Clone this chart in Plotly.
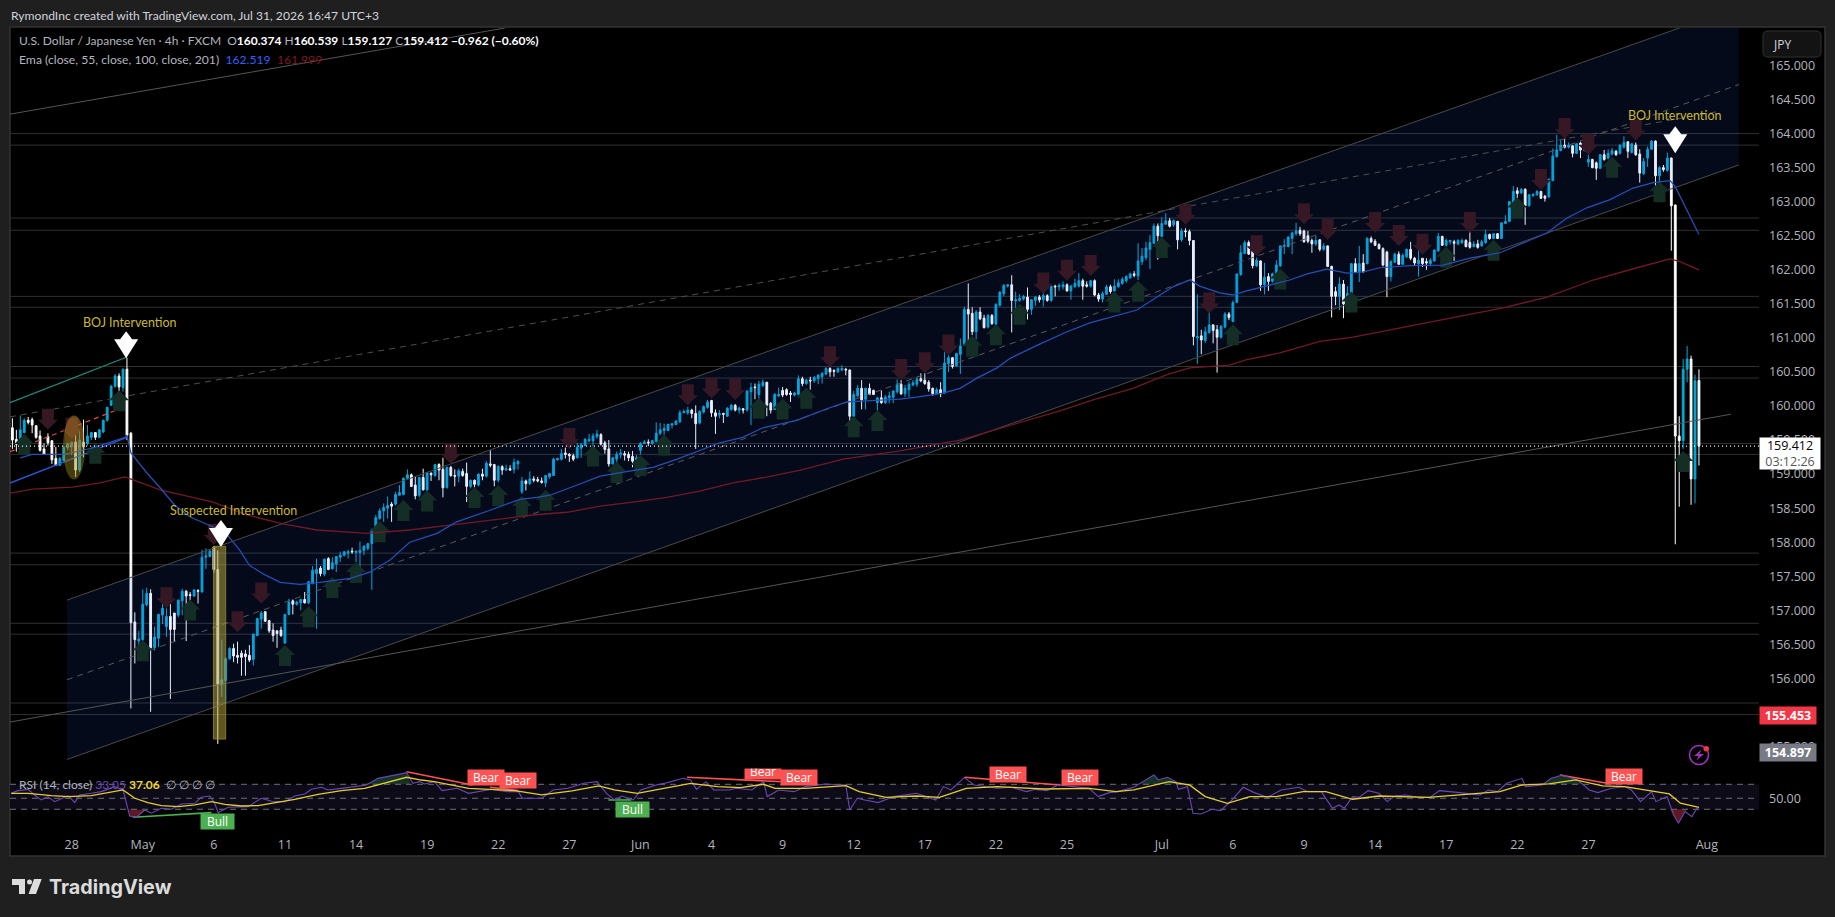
import plotly.graph_objects as go

# ---- candles (4h USD/JPY) ----
opens = [
159.68,159.51,159.44,159.61,159.79,159.80,159.71,159.56,159.37,159.55,
159.49,159.23,159.13,159.20,159.39,159.40,159.47,159.06,159.47,159.45,
159.54,159.61,159.54,159.62,159.79,160.01,160.29,160.44,160.27,160.54,
159.60,156.83,156.55,156.57,157.08,157.25,156.45,156.59,156.93,156.76,
156.91,156.96,156.93,157.14,157.28,157.23,157.21,157.29,157.27,157.78,
157.79,157.93,157.60,155.92,155.97,156.29,156.44,156.34,156.37,156.36,
156.34,156.28,156.63,156.87,156.98,156.85,156.71,156.70,156.71,156.52,
156.94,157.14,157.09,157.11,157.16,157.11,157.39,157.54,157.62,157.53,
157.76,157.61,157.68,157.78,157.81,157.84,157.87,157.85,157.85,157.88,
157.91,157.98,158.15,158.35,158.46,158.50,158.56,158.56,158.69,158.70,
158.94,158.99,158.84,158.69,158.95,158.77,159.01,158.98,159.14,159.07,
158.80,159.10,158.98,158.97,159.04,159.01,158.82,158.91,158.84,159.00,
158.97,159.15,159.14,158.91,159.11,159.06,159.08,159.07,159.15,158.74,
158.90,158.86,158.93,158.92,158.90,158.87,158.96,158.98,159.21,159.22,
159.31,159.29,159.27,159.24,159.38,159.42,159.49,159.49,159.55,159.58,
159.46,159.37,159.15,159.22,159.29,159.30,159.29,159.26,159.19,159.35,
159.45,159.47,159.45,159.48,159.60,159.64,159.64,159.72,159.73,159.77,
159.90,159.90,159.94,159.89,159.75,159.91,159.98,160.08,159.90,159.87,
159.89,159.85,159.95,160.01,159.94,159.96,159.94,160.21,160.28,160.17,
160.30,160.35,160.04,159.95,160.15,160.23,160.24,160.19,160.16,160.17,
160.40,160.33,160.38,160.37,160.40,160.43,160.47,160.55,160.52,160.50,
160.53,160.54,160.53,159.85,160.15,160.26,160.10,160.26,160.23,160.05,
160.12,160.05,160.12,160.13,160.21,160.32,160.18,160.24,160.31,160.32,
160.40,160.38,160.35,160.26,160.18,160.24,160.19,160.62,160.71,160.59,
160.76,160.89,161.42,161.36,161.09,161.38,161.29,161.16,161.33,161.20,
161.48,161.65,161.76,161.78,161.54,161.55,161.57,161.60,161.42,161.55,
161.60,161.56,161.62,161.55,161.76,161.75,161.75,161.78,161.69,161.75,
161.76,161.84,161.78,161.76,161.84,161.63,161.57,161.64,161.75,161.69,
161.75,161.80,161.84,161.88,161.94,161.91,162.12,162.18,162.30,162.39,
162.64,162.49,162.67,162.72,162.66,162.71,162.44,162.57,162.56,162.43,
161.00,161.03,160.96,161.08,161.19,161.12,161.01,161.16,161.35,161.24,
161.52,161.93,162.24,162.40,162.27,162.06,162.13,161.78,161.90,161.83,
161.92,162.06,162.34,162.34,162.46,162.53,162.58,162.57,162.50,162.43,
162.38,162.44,162.30,162.35,162.05,161.68,161.61,161.79,161.50,161.65,
162.09,161.97,162.10,162.09,162.46,162.42,162.37,162.31,162.26,161.90,
162.11,162.23,162.08,162.19,162.30,162.17,162.09,162.17,162.12,162.09,
162.13,162.28,162.49,162.36,162.41,162.41,162.38,162.40,162.43,162.40,
162.34,162.38,162.35,162.40,162.52,162.46,162.53,162.46,162.68,162.71,
162.99,163.16,163.13,163.18,162.94,163.09,163.10,163.15,163.08,163.07,
163.31,163.66,163.75,163.83,163.80,163.82,163.71,163.86,163.75,163.58,
163.62,163.57,163.49,163.69,163.64,163.70,163.74,163.71,163.80,163.88,
163.72,163.83,163.70,163.41,163.64,163.77,163.89,163.38,163.50,163.46,
163.64,162.95,159.56,159.49,160.54,160.69,158.93,160.374]

highs = [
159.82,159.65,159.86,159.82,159.84,159.83,159.72,159.64,159.45,159.60,
159.50,159.40,159.25,159.42,159.46,159.47,159.57,159.63,159.80,159.72,
159.62,159.61,159.66,159.80,159.99,160.31,160.47,160.48,160.55,160.71,
159.62,156.97,156.70,157.31,157.33,157.31,156.76,156.95,157.20,157.03,
157.25,156.96,157.16,157.32,157.30,157.27,157.31,157.31,157.89,157.91,
157.89,157.94,157.88,156.57,156.31,156.46,156.51,156.54,156.41,156.42,
156.49,156.66,156.89,156.99,156.99,156.86,156.81,156.70,156.76,156.95,
157.17,157.16,157.14,157.17,157.27,157.43,157.65,157.76,157.65,157.76,
157.78,157.78,157.79,157.86,157.87,157.89,157.92,157.87,158.01,157.96,
157.99,158.20,158.40,158.50,158.57,158.67,158.59,158.74,158.84,158.95,
159.07,159.01,158.96,158.96,159.08,159.03,159.03,159.15,159.16,159.24,
159.11,159.12,159.07,159.08,159.08,159.17,158.92,158.92,159.01,159.08,
159.19,159.35,159.15,159.13,159.13,159.14,159.13,159.23,159.20,158.96,
158.92,159.04,158.97,158.96,158.95,158.98,159.02,159.24,159.24,159.37,
159.39,159.31,159.30,159.46,159.46,159.53,159.59,159.60,159.65,159.60,
159.49,159.50,159.25,159.33,159.37,159.34,159.33,159.34,159.28,159.47,
159.50,159.51,159.50,159.76,159.75,159.74,159.74,159.75,159.79,159.94,
159.95,159.99,159.96,160.01,159.94,160.01,160.09,160.09,159.95,159.94,
159.90,159.98,160.03,160.03,159.99,159.97,160.23,160.34,160.33,160.37,
160.39,160.35,160.06,160.19,160.27,160.28,160.26,160.22,160.21,160.45,
160.43,160.40,160.43,160.44,160.47,160.50,160.57,160.57,160.54,160.57,
160.60,160.56,160.53,160.22,160.31,160.38,160.27,160.33,160.24,160.13,
160.23,160.16,160.21,160.23,160.39,160.38,160.31,160.36,160.38,160.43,
160.48,160.48,160.38,160.27,160.27,160.35,160.79,160.80,160.72,160.78,
160.99,161.46,161.80,161.45,161.41,161.45,161.34,161.35,161.35,161.51,
161.69,161.79,161.79,161.92,161.68,161.64,161.63,161.74,161.57,161.61,
161.63,161.70,161.64,161.77,161.78,161.80,161.83,161.80,161.78,161.87,
161.95,161.87,161.83,161.85,161.86,161.66,161.68,161.78,161.78,161.86,
161.86,161.89,161.92,161.96,161.98,162.39,162.32,162.41,162.51,162.68,
162.68,162.77,162.83,162.76,162.74,162.72,162.61,162.61,162.59,162.43,
161.64,161.12,161.16,161.53,161.20,161.19,161.19,161.38,161.38,161.55,
161.94,162.36,162.43,162.43,162.28,162.18,162.14,162.10,161.95,161.96,
162.14,162.36,162.45,162.49,162.56,162.69,162.63,162.59,162.57,162.46,
162.50,162.45,162.39,162.36,162.06,161.75,161.89,161.85,161.76,162.10,
162.17,162.35,162.23,162.48,162.49,162.45,162.39,162.33,162.28,162.14,
162.25,162.27,162.24,162.31,162.41,162.19,162.34,162.17,162.17,162.17,
162.30,162.54,162.50,162.46,162.44,162.44,162.45,162.46,162.45,162.58,
162.42,162.44,162.44,162.59,162.53,162.54,162.54,162.70,162.80,163.01,
163.23,163.21,163.20,163.20,163.11,163.12,163.17,163.16,163.10,163.34,
163.78,163.98,163.91,163.93,163.87,163.83,163.86,163.88,163.84,163.69,
163.63,163.59,163.70,163.76,163.77,163.79,163.76,163.84,163.96,163.88,
163.86,163.87,163.77,163.64,163.81,163.90,163.90,163.52,163.54,163.72,
163.65,162.96,159.85,160.69,160.88,160.74,160.46,160.539]

lows = [
159.37,159.33,159.40,159.60,159.73,159.60,159.52,159.33,159.29,159.42,
159.15,159.13,159.12,159.19,159.35,159.28,158.96,159.03,159.25,159.42,
159.50,159.50,159.53,159.60,159.77,160.01,160.27,160.09,160.21,159.50,
155.56,156.22,156.32,156.46,157.06,155.51,156.41,156.46,156.80,156.61,
155.70,156.54,156.90,156.93,156.55,157.10,157.20,157.10,157.26,157.61,
157.78,157.55,155.04,155.73,155.63,156.27,156.24,156.22,156.04,156.04,
156.24,156.19,156.62,156.73,156.83,156.67,156.54,156.45,156.61,156.51,
156.93,156.94,157.07,157.00,157.10,157.09,157.39,156.73,157.50,157.50,
157.59,157.60,157.56,157.71,157.79,157.76,157.83,157.71,157.52,157.81,
157.88,157.30,158.14,158.33,158.30,158.35,158.30,158.54,158.69,158.69,
158.92,158.81,158.63,158.66,158.76,158.74,158.90,158.96,158.91,158.66,
158.79,158.96,158.82,158.88,158.96,158.59,158.79,158.80,158.82,158.91,
158.95,159.10,158.82,158.88,158.99,159.05,159.05,159.01,159.07,158.71,
158.76,158.84,158.88,158.88,158.86,158.81,158.93,158.97,159.20,159.20,
159.23,159.18,159.19,159.23,159.24,159.41,159.47,159.40,159.52,159.42,
159.30,159.11,159.14,159.15,159.23,159.20,159.19,159.10,159.18,159.29,
159.44,159.41,159.43,159.46,159.57,159.57,159.63,159.67,159.72,159.75,
159.90,159.87,159.82,159.37,159.73,159.89,159.96,159.84,159.59,159.82,
159.75,159.84,159.93,159.92,159.89,159.89,159.92,159.72,160.10,160.10,
160.28,159.85,159.89,159.94,160.13,160.13,160.15,160.06,160.14,160.16,
160.29,160.31,160.24,160.34,160.32,160.33,160.45,160.43,160.43,160.49,
160.51,160.45,159.55,159.84,160.13,159.95,159.95,160.16,160.16,159.74,
160.03,160.03,160.04,160.04,160.18,160.16,160.13,160.13,160.29,160.28,
160.35,160.31,160.21,160.15,160.17,160.13,160.18,160.50,160.55,160.57,
160.47,160.88,160.92,161.04,160.98,161.26,161.14,161.14,161.19,161.19,
161.46,161.61,161.74,161.08,161.40,161.53,161.55,161.27,161.34,161.47,
161.52,161.46,161.53,161.53,161.61,161.69,161.71,161.68,161.56,161.74,
161.74,161.56,161.74,161.74,161.61,161.53,161.52,161.63,161.65,161.68,
161.74,161.78,161.81,161.87,161.89,161.85,162.07,162.14,162.01,162.38,
162.15,162.48,162.66,162.62,162.63,162.30,162.41,162.48,162.36,160.89,
160.62,160.76,160.93,161.06,160.92,160.49,160.99,161.14,161.26,161.23,
161.51,161.91,162.23,162.22,162.02,162.04,161.69,161.64,161.69,161.81,
161.89,162.04,162.23,162.33,162.23,162.50,162.50,162.40,162.39,162.25,
162.35,162.27,162.28,162.04,161.30,161.48,161.41,161.29,161.48,161.63,
161.95,161.82,161.96,162.08,162.39,162.35,162.30,162.05,161.60,161.83,
162.10,162.07,162.07,162.17,162.14,162.07,161.90,162.04,162.00,162.05,
162.12,162.26,162.35,162.34,162.37,162.13,162.36,162.38,162.33,162.31,
162.33,162.31,162.34,162.38,162.44,162.45,162.45,162.45,162.67,162.70,
162.97,163.02,163.11,162.66,162.93,163.07,163.09,163.04,163.00,163.06,
163.30,163.65,163.74,163.78,163.78,163.65,163.70,163.64,163.74,163.51,
163.49,163.32,163.48,163.60,163.62,163.68,163.67,163.69,163.78,163.64,
163.71,163.67,163.28,163.39,163.51,163.76,163.23,163.22,163.44,163.44,
162.28,157.97,158.52,159.37,160.35,158.55,158.57,159.127]

closes = [
159.50,159.44,159.65,159.79,159.76,159.72,159.54,159.35,159.29,159.46,
159.21,159.13,159.23,159.39,159.45,159.47,159.06,159.50,159.40,159.56,
159.61,159.54,159.65,159.79,159.98,160.29,160.44,160.28,160.54,159.57,
156.82,156.57,156.58,157.09,157.25,156.45,156.61,156.94,157.03,156.91,
156.72,156.72,157.15,157.28,157.21,157.22,157.30,157.28,157.78,157.80,
157.87,157.60,155.92,155.98,156.29,156.44,156.33,156.31,156.31,156.32,
156.27,156.65,156.88,156.96,156.84,156.70,156.63,156.66,156.63,156.94,
157.12,157.09,157.12,157.16,157.11,157.42,157.59,157.60,157.54,157.75,
157.60,157.70,157.79,157.81,157.86,157.86,157.86,157.87,157.88,157.94,
157.98,158.18,158.36,158.46,158.51,158.54,158.53,158.70,158.73,158.94,
158.99,158.82,158.68,158.95,158.77,159.02,158.99,159.14,159.06,158.80,
159.10,158.98,158.97,159.05,158.98,158.82,158.91,158.85,159.00,158.97,
159.16,159.13,158.91,159.11,159.06,159.08,159.06,159.17,159.19,158.90,
158.86,158.93,158.91,158.90,158.88,158.98,159.01,159.22,159.23,159.30,
159.29,159.27,159.22,159.39,159.43,159.51,159.51,159.56,159.59,159.44,
159.36,159.15,159.24,159.29,159.31,159.28,159.24,159.19,159.24,159.45,
159.47,159.46,159.49,159.60,159.65,159.67,159.73,159.74,159.78,159.90,
159.92,159.94,159.89,159.74,159.92,159.99,160.06,159.90,159.85,159.89,
159.88,159.97,160.01,159.94,159.97,159.94,160.22,160.27,160.27,160.32,
160.35,160.01,159.94,160.17,160.17,160.16,160.17,160.17,160.19,160.40,
160.33,160.38,160.37,160.42,160.45,160.48,160.55,160.50,160.51,160.55,
160.55,160.53,159.85,160.17,160.26,160.09,160.26,160.17,160.17,160.12,
160.05,160.13,160.15,160.22,160.32,160.18,160.26,160.32,160.34,160.39,
160.37,160.33,160.25,160.18,160.24,160.18,160.63,160.71,160.58,160.77,
160.88,161.42,161.35,161.09,161.38,161.28,161.15,161.33,161.21,161.49,
161.67,161.77,161.78,161.55,161.56,161.58,161.61,161.42,161.56,161.60,
161.56,161.62,161.55,161.76,161.75,161.77,161.78,161.69,161.76,161.80,
161.84,161.76,161.76,161.84,161.63,161.57,161.65,161.75,161.68,161.76,
161.81,161.86,161.90,161.94,161.92,162.13,162.20,162.32,162.40,162.64,
162.50,162.68,162.72,162.64,162.72,162.44,162.57,162.56,162.43,161.02,
161.02,160.97,161.09,161.19,161.11,161.01,161.17,161.35,161.30,161.52,
161.94,162.25,162.40,162.23,162.06,162.14,161.78,161.89,161.83,161.94,
162.07,162.35,162.36,162.48,162.54,162.57,162.53,162.41,162.42,162.38,
162.43,162.30,162.35,162.05,161.61,161.61,161.79,161.50,161.65,162.09,
161.97,162.09,161.97,162.46,162.41,162.36,162.31,162.07,161.90,162.12,
162.23,162.08,162.21,162.30,162.17,162.10,162.14,162.09,162.10,162.14,
162.29,162.49,162.36,162.43,162.43,162.39,162.43,162.43,162.34,162.33,
162.38,162.33,162.41,162.52,162.46,162.53,162.46,162.69,162.71,163.00,
163.15,163.12,163.18,162.94,163.10,163.11,163.15,163.05,163.05,163.33,
163.67,163.76,163.83,163.80,163.83,163.71,163.85,163.76,163.82,163.62,
163.50,163.49,163.69,163.62,163.71,163.75,163.69,163.83,163.87,163.74,
163.85,163.69,163.42,163.59,163.77,163.89,163.38,163.50,163.47,163.64,
162.94,159.56,159.49,160.54,160.69,158.93,160.37,159.412]

bars = list(range(len(closes)))
assert len(opens) == len(highs) == len(lows) == len(closes) == 428

# ---- moving averages (bar, price) ----
ema_a_bar = [2,5,13,20,28.5,29,30,34,37.4,41,45,48.8,53.8,57.6,60,64,67.8,72.8,77.9,85.5,90.5,95.6,100.6,107.5,112.5,120.9,128.5,132.8,136.1,143,148.8,157,162.2,168.3,174,179.1,184.9,190,198.6,206.2,211.3,224.7,229,235.6,239.9,244.2,249.3,252.6,259.4,267,272.8,278.6,284.7,288.7,293.8,298.1,300.6,305.7,309,312.5,316.6,323.4,327.8,332.8,337.9,342,346.2,353.8,362.2,369,376.6,381.6,388.5,393.6,398.6,404.5,410.3,415.4,419.7,421,424,427]
ema_a_val = [159.24,159.29,159.29,159.38,159.54,159.57,159.31,159.02,158.80,158.55,158.37,158.28,158.15,157.88,157.66,157.52,157.41,157.38,157.41,157.47,157.56,157.74,158.00,158.13,158.30,158.47,158.63,158.66,158.69,158.84,158.97,159.05,159.10,159.22,159.35,159.46,159.54,159.68,159.79,159.96,160.06,160.10,160.13,160.19,160.26,160.41,160.56,160.70,160.89,161.09,161.22,161.31,161.41,161.56,161.75,161.85,161.76,161.66,161.63,161.69,161.75,161.85,161.94,162.01,161.95,161.97,162.03,162.06,162.07,162.17,162.25,162.37,162.54,162.76,162.91,163.03,163.20,163.28,163.31,163.22,162.88,162.519]
ema_b_bar = [-0.6,5.2,15.3,22.2,28.5,37.4,50.8,59.4,68.5,77.1,89.8,100.6,110.8,123.4,131.8,140.4,148.8,157.1,165.7,174,182.5,191.2,199.5,210.3,224.7,239.9,255.1,265.2,273.6,283.7,292.3,298.1,308.2,312.5,320.9,331,339.4,358.1,377.4,388.5,400.2,411.3,419.7,422.2,427]
ema_b_val = [158.72,158.78,158.81,158.87,158.96,158.77,158.59,158.40,158.27,158.18,158.13,158.18,158.25,158.34,158.40,158.44,158.53,158.59,158.66,158.75,158.87,158.96,159.06,159.22,159.34,159.50,159.76,159.93,160.09,160.26,160.46,160.56,160.60,160.68,160.78,160.95,161.01,161.22,161.44,161.60,161.85,162.03,162.16,162.12,161.999]

# ---- RSI (bar, value) ----
rsi_bar = [-0.3,1.4,4,5.6,7.3,9,10.7,12.8,14.1,15.8,17,20,22.5,25.9,28,29.7,31.4,33.5,35.2,37.7,40.2,42.8,46.2,47.8,50,51.2,52.1,54.6,59.7,63,65.6,69,71.5,74,75.7,78.2,79.9,83.3,89.6,92.6,99.8,101.4,103.1,104.4,106.8,108.8,112.6,115.5,118.4,121.4,125.2,128.1,129.1,134,136.9,140.7,144.6,148,150.4,152.4,154.3,157.2,159.1,163,165.9,169.8,171.7,173.2,175.6,177.6,181.4,183.4,187.2,190.2,191.1,194,197.9,200.8,205.7,211,212,213.9,215.8,219.2,223.1,228.9,233.8,235.7,237.6,241,243.5,249.3,252.8,256.8,259,261.9,264.7,272.6,274.9,277.7,279.9,283.9,286.2,289,290.1,292.4,294.6,295.2,297.5,298.9,300.9,303.7,305.9,308.8,311.6,314.4,317.8,321.2,325.7,328,331.4,334.2,335.9,337.2,339.3,341,343.2,346,348.1,350,352.8,355.7,359,361.3,366.4,371.5,373.7,376,378.3,382.2,383.1,387.3,389.6,392.4,396.3,399.2,401.4,404.8,408.2,409.9,412.2,415,416.1,418.9,420.6,421.8,423.5,425.2,426.5,427]
rsi_val = [57.1,60.9,62.8,54.7,47.6,52.4,45.2,50,53.8,43.8,54.7,57.1,59.5,66.6,61.9,24.7,22.8,33.3,28.6,35.7,34.3,41.9,42.8,51.4,53.3,42.8,29.5,37.1,38.1,50,45.7,45.2,53.3,56.2,62.8,65.7,61.9,64.2,69,78.5,86.6,71.4,73.8,70.4,73.8,60.9,64.3,57.1,59.5,62.8,59.5,59.5,50,50,61.9,64.3,71.4,73.8,57.1,47.6,53.3,47.6,61.9,69,72.4,78.5,76.2,62.8,73.8,61.9,61.9,64.3,61.9,73.8,52.4,61.9,59.5,66.7,70.5,69,33.3,50,47.6,43.8,52.4,57.1,47.6,66.7,61.9,79.5,69,64.3,65.7,59.5,62.8,60.9,69,64.3,52.4,58.1,59.5,65.7,73.8,83.3,76.2,80,73.8,62.8,66.7,28.6,27.6,34.3,32.4,47.6,65.7,58.1,51.4,61.9,65.7,59.5,59.5,35.7,40.5,35.7,52.4,51.4,60.9,57.1,45.2,53.3,54.7,51.4,51.4,60.9,58.1,54.7,61.9,59.5,71.4,78.5,66.7,69,78.5,83.3,76.2,61.9,58.1,64.3,66.7,61.9,45.2,59.5,45.2,52.4,26.2,14.3,31,23.8,35.7,33.05]
rsi_ma_bar = [-0.3,4,9.9,14.1,20,24.2,28,31,34.3,37.7,42,46.2,50.4,53.8,58,62.2,66.4,71.5,77.4,83.3,89.2,93.4,99.8,103.5,106.8,115.5,127.2,134,141.7,148.5,152.4,158.2,164,171.7,178.5,184.3,190.2,193.1,200.8,211,214.4,221.2,228.9,234.7,241.5,249.3,261.3,272.6,279.4,283.9,292.9,298,302,307.6,313.3,320,326.8,332.5,339.3,346,358.5,368.7,376.6,382.2,389,395.8,402.6,408.2,415,419.5,422.3,426.5,427]
rsi_ma_val = [57.1,57.1,53.8,52.4,53.8,58,61.9,50,43.8,39.5,38.1,40.5,45.2,41.4,39,39.5,43.8,48.5,55.7,60.9,64.2,70.4,80,76.1,73.8,64.3,60.9,54.8,60.5,67.6,61.9,57.1,62.8,71.4,66.7,65.2,70,64.3,64.3,68.1,59.5,51.4,53.3,51.4,64.3,66.7,63.3,64.3,59.5,61.9,73.8,69,52.4,42.9,52.4,52.4,59.5,59.5,48.6,53.3,51.4,56.2,59.5,69,70.5,76.2,67.6,66.7,61,56.2,42.9,38.1,37.06]
rsi_levels = [70, 50, 34.3]
oversold_zones = [([419.6,420.6,421.8,423.5,424.2],[34.3,26.2,14.3,31,34.3]), ([29.5,29.7,31.4,33,33.5],[34.3,24.7,22.8,31,33.3])]
overbought_zones = [([90,92.6,99.8,100.9],[70,78.5,86.6,70]), ([285.5,286.2,289,290.1,292.4,294.6,295],[70,73.8,83.3,76.2,80,73.8,70]), ([388,389.6,392.4,396.3,397.8],[70,78.5,83.3,76.2,70])]
bear_lines = [((99.8,116.5),(88,69)), ((120.9,128.1),(65.7,61)), ((170.8,194.5),(80,73.8)), ((241,265.3),(80,69)), ((391.8,403.7),(83.3,71.4))]
bull_lines = [((30.5,50.4),(22.8,29.5)), ((150.9,156.7),(47.6,47.6))]
bear_labels = [(119.9,80.4),(128,76.1),(190,88.9),(199.2,80.4),(252,83.3),(270.2,80.4),(408,81)]
bull_labels = [(51.9,17.1),(157,33.3)]

# ---- drawn levels and trend lines ----
level_prices = [164.00,163.83,162.76,162.58,161.61,161.45,160.58,160.41,159.45,159.29,157.84,157.67,156.81,156.65,155.64,155.47]
channel_bar = [13.8, 437.1]
channel_top = [157.15, 165.86]
channel_mid = [155.98, 164.72]
channel_bottom = [154.81, 163.54]
upper_dash_bar, upper_dash_val = [-0.6, 431.5], [159.84, 164.32]
low_line_bar, low_line_val = [-0.6, 435.1], [155.36, 159.88]
high_line_bar, high_line_val = [-0.6, 124.7], [164.285, 165.55]
teal_bar, teal_val = [-0.6, 29], [160.05, 160.72]
red_dash_bar, red_dash_val = [-0.6, 29], [159.33, 160.0]
blue_bar, blue_val = [-0.6, 29], [158.87, 159.54]

# signal arrows: (bar, tip price)
up_bar = [3,21,27,33,45,69,75,81,87,93,99,105,117,123,129,135,147,153,159,165,189,195,201,213,219,243,249,255,279,285,291,309,321,339,363,375,381,405,417,423]
up_tip = [159.59,159.46,160.23,156.56,157.16,156.49,157.06,157.49,157.71,158.31,158.62,158.76,158.81,158.84,158.68,158.77,159.42,159.18,159.28,159.58,160.12,160.11,160.27,159.85,159.94,161.03,161.20,161.50,161.68,161.84,162.48,161.20,162.02,161.68,162.34,162.44,163.06,163.66,163.30,159.34]
down_bar = [9,15,39,51,57,63,111,141,171,177,183,207,225,231,237,261,267,273,297,303,315,327,333,345,351,357,369,387,393,399,411]
down_tip = [159.65,159.52,157.03,157.96,156.68,157.10,159.15,159.37,160.01,160.11,160.09,160.57,160.38,160.48,160.74,161.65,161.84,161.91,162.66,161.36,162.20,162.67,162.44,162.54,162.35,162.22,162.54,163.17,163.92,163.69,163.90]
event_bar = [28.8, 52.8, 421]
event_tip = [160.70, 157.93, 163.71]
event_text = ["BOJ Intervention", "Suspected Intervention", "BOJ Intervention"]
event_text_bar = [29.8, 56, 421]
event_text_price = [161.22, 158.46, 164.27]

# tick labels
x_ticks = [15,33,51,69,87,105,123,141,159,177,195,213,231,249,267,291,309,327,345,363,381,399,429]
x_labels = ["28","May","6","11","14","19","22","27","Jun","4","9","12","17","22","25","Jul","6","9","14","17","22","27","Aug"]
price_ticks = [155.0,156.0,156.5,157.0,157.5,158.0,158.5,159.0,159.5,160.0,160.5,161.0,161.5,162.0,162.5,163.0,163.5,164.0,164.5,165.0]
last_price = 159.412

# ---- geometry of the reference window ----
W, H = 1835, 917
BG = "#1f1f1f"
UP = "#00acd8"
TXT = "#b2b5be"
FONT = "Open Sans, Liberation Sans, sans-serif"
LEG = "Lato, Open Sans, sans-serif"
PX_PER_BAR = 3.95
PX_PER_PRICE = 68.07
def X(px): return px / W
def Y(px): return 1 - px / H

fig = go.Figure()

def line(x, y, color, width=1, dash=None, yaxis="y", fill=None, fillcolor=None, mode="lines"):
    fig.add_trace(go.Scatter(x=x, y=y, mode=mode, yaxis=yaxis, xaxis="x", fill=fill, fillcolor=fillcolor,
                             line=dict(color=color, width=width, dash=dash), hoverinfo="skip", showlegend=False))

# channel fill and its edges
line(channel_bar + channel_bar[::-1], channel_top + channel_bottom[::-1], "rgba(0,0,0,0)", 0,
     fill="toself", fillcolor="rgba(41,98,255,0.10)")
line(channel_bar, channel_top, "#4a4a4a")
line(channel_bar, channel_bottom, "#4a4a4a")
line(channel_bar, channel_mid, "#5a5a5a", dash="6px,5px")
line(upper_dash_bar, upper_dash_val, "#4f4f4f", dash="6px,5px")
line(low_line_bar, low_line_val, "#555555")
line(high_line_bar, high_line_val, "#555555")
line(teal_bar, teal_val, "#1f8f7f", 1.2)
line(red_dash_bar, red_dash_val, "#e0484e", 1.2, dash="5px,4px")
line(blue_bar, blue_val, "#2a58cf", 1.4)

# arrows, sized in screen pixels around each tip
def arrows(bars_, tips, direction, color):
    hw, sw, hh, tot = 10 / PX_PER_BAR, 6 / PX_PER_BAR, 10 / PX_PER_PRICE, 21 / PX_PER_PRICE
    xs, ys = [], []
    for b, t in zip(bars_, tips):
        s = -direction
        xs += [b, b + hw, b + sw, b + sw, b - sw, b - sw, b - hw, b, None]
        ys += [t, t + s * hh, t + s * hh, t + s * tot, t + s * tot, t + s * hh, t + s * hh, t, None]
    line(xs, ys, "rgba(0,0,0,0)", 0, fill="toself", fillcolor=color)
arrows(up_bar, up_tip, 1, "rgb(20,46,37)")
arrows(down_bar, down_tip, -1, "rgb(54,23,36)")

# EMA
line(ema_b_bar, ema_b_val, "#701a28", 1.3)
line(ema_a_bar, ema_a_val, "#2450b8", 1.25)

# candles
fig.add_trace(go.Candlestick(x=bars, open=opens, high=highs, low=lows, close=closes, xaxis="x", yaxis="y",
    increasing=dict(line=dict(color=UP, width=1), fillcolor=UP),
    decreasing=dict(line=dict(color="#ffffff", width=1), fillcolor="#ffffff"),
    whiskerwidth=0, hoverinfo="skip", showlegend=False))

# last price line
line([-0.6, 442.2], [last_price, last_price], "#ffffff", 1.2, dash="1px,3px")

# event markers
xs, ys = [], []
for b, t in zip(event_bar, event_tip):
    dx, dy = 1 / PX_PER_BAR, 1 / PX_PER_PRICE
    xs += [b, b + 12 * dx, b + 6 * dx, b, b - 6 * dx, b - 12 * dx, b, None]
    ys += [t, t + 19 * dy, t + 19 * dy, t + 27 * dy, t + 19 * dy, t + 19 * dy, t, None]
line(xs, ys, "#ffffff", 0, fill="toself", fillcolor="#ffffff")

# RSI pane
line([-0.6, 442.2, 442.2, -0.6], [70, 70, rsi_levels[2], rsi_levels[2]], "rgba(0,0,0,0)", 0, yaxis="y2",
     fill="toself", fillcolor="rgb(14,11,24)")
for bx, vy in oversold_zones:
    line(bx, vy, "rgba(0,0,0,0)", 0, yaxis="y2", fill="toself", fillcolor="rgb(95,24,34)")
for bx, vy in overbought_zones:
    line(bx, vy, "rgba(0,0,0,0)", 0, yaxis="y2", fill="toself", fillcolor="rgb(20,50,40)")
for lv in rsi_levels:
    line([-0.6, 441], [lv, lv], "#6f717a", 1, dash="6px,5px", yaxis="y2")
for bx, vy in bull_lines:
    line(list(bx), list(vy), "#4caf50", 1.6, yaxis="y2")
for bx, vy in bear_lines:
    line(list(bx), list(vy), "#ff5252", 1.6, yaxis="y2")
line(rsi_bar, rsi_val, "#6a48b4", 1.1, yaxis="y2")
line(rsi_ma_bar, rsi_ma_val, "#e3cd2e", 1.3, yaxis="y2")

shapes = [
    dict(type="rect", xref="paper", yref="paper", x0=X(10), x1=X(1825), y0=Y(856), y1=Y(27),
         fillcolor="#000000", line=dict(color="#333333", width=1.5), layer="below"),
]
for p in level_prices:
    shapes.append(dict(type="line", xref="x domain", yref="y", x0=0, x1=1, y0=p, y1=p,
                       line=dict(color="#303030", width=1), layer="below"))
# highlighted column and oval
shapes.append(dict(type="rect", xref="x", yref="y", x0=50.9, x1=54, y0=155.11, y1=157.94,
                   fillcolor="rgba(190,170,60,0.50)", line=dict(color="rgba(150,135,50,0.8)", width=1)))
shapes.append(dict(type="circle", xref="x", yref="y", x0=12.8, x1=18.4, y0=158.92, y1=159.86,
                   fillcolor="rgba(150,130,30,0.45)", line=dict(width=0)))
shapes.append(dict(type="circle", xref="x", yref="y", x0=13.2, x1=18, y0=159.3, y1=159.86,
                   fillcolor="rgba(200,100,30,0.25)", line=dict(width=0)))
# JPY button
x0, x1, y0, y1, r = X(1763), X(1821), Y(57), Y(31), 5
rx, ry = r / W, r / H
shapes.append(dict(type="path", xref="paper", yref="paper",
    path=f"M {x0+rx} {y0} L {x1-rx} {y0} Q {x1} {y0} {x1} {y0+ry} L {x1} {y1-ry} Q {x1} {y1} {x1-rx} {y1} L {x0+rx} {y1} Q {x0} {y1} {x0} {y1-ry} L {x0} {y0+ry} Q {x0} {y0} {x0+rx} {y0} Z",
    fillcolor="#131313", line=dict(color="#303030", width=1)))
# bolt icon
shapes.append(dict(type="circle", xref="paper", yref="paper", x0=X(1689.5), x1=X(1708.5), y0=Y(764.5), y1=Y(745.5),
                   line=dict(color="#9c33b5", width=1.6)))
shapes.append(dict(type="path", xref="paper", yref="paper",
    path=f"M {X(1701.5)} {Y(749.5)} L {X(1694)} {Y(756)} L {X(1698.5)} {Y(756)} L {X(1696.5)} {Y(760.5)} L {X(1704)} {Y(754)} L {X(1699.5)} {Y(754)} Z",
    fillcolor="#9c33b5", line=dict(width=0)))
shapes.append(dict(type="circle", xref="paper", yref="paper", x0=X(1703.5), x1=X(1709), y0=Y(751.5), y1=Y(746),
                   fillcolor="#f23645", line=dict(width=0)))
# logo mark
shapes.append(dict(type="path", xref="paper", yref="paper",
    path=f"M {X(12)} {Y(879)} L {X(25)} {Y(879)} L {X(25)} {Y(894)} L {X(19)} {Y(894)} L {X(19)} {Y(885)} L {X(12)} {Y(885)} Z",
    fillcolor="#dcdcdc", line=dict(width=0)))
shapes.append(dict(type="circle", xref="paper", yref="paper", x0=X(27), x1=X(32), y0=Y(884.5), y1=Y(879.5),
                   fillcolor="#dcdcdc", line=dict(width=0)))
shapes.append(dict(type="path", xref="paper", yref="paper",
    path=f"M {X(41.7)} {Y(879)} L {X(36)} {Y(894)} L {X(28.5)} {Y(894)} L {X(34)} {Y(879)} Z",
    fillcolor="#dcdcdc", line=dict(width=0)))

anns = []
def text(t, px, py, size=12, color=TXT, xanchor="left", family=FONT, **kw):
    anns.append(dict(text=t, x=X(px), y=Y(py), xref="paper", yref="paper", xanchor=xanchor, yanchor="middle",
                     showarrow=False, font=dict(size=size, color=color, family=family), borderpad=0, **kw))

text("RymondInc created with TradingView.com, Jul 31, 2026 16:47 UTC+3", 10, 15, 12.1, "#d1d4dc", family=LEG)
W_ = '<span style="color:#ffffff"><b>%s</b></span>'
text("U.S. Dollar / Japanese Yen · 4h · FXCM  O" + W_ % "160.374" + " H" + W_ % "160.539" + " L" + W_ % "159.127" + " C" + W_ % "159.412"
     + " " + W_ % "−0.962 (−0.60%)", 18, 41, 12, family=LEG)
text('Ema (close, 55, close, 100, close, 201)  <span style="color:#2962ff">162.519</span>  <span style="color:#801922">161.999</span>',
     18, 59, 12.2, family=LEG)
text('RSI (14, close) <span style="color:#6a48b4">33.05</span> <span style="color:#f0d92f"><b>37.06</b></span>  ∅ ∅ ∅ ∅',
     18, 784, 12, family=LEG)
text("JPY", 1772, 44, 12, "#d1d4dc")
text("<b>TradingView</b>", 48, 887, 19.8, "#dcdcdc", family="Inter, sans-serif")
for t, b, p in zip(event_text, event_text_bar, event_text_price):
    anns.append(dict(text=t, x=b, y=p, xref="x", yref="y", showarrow=False, xanchor="center", yanchor="middle",
                     font=dict(size=12.5, color="#c9b92f", family=LEG)))
for b, v in bear_labels:
    anns.append(dict(text="Bear", x=b, y=v, xref="x", yref="y2", showarrow=False, bgcolor="#ff5252",
                     font=dict(size=12, color="#ffffff", family=FONT), width=36, height=15, borderpad=0))
for b, v in bull_labels:
    anns.append(dict(text="Bull", x=b, y=v, xref="x", yref="y2", showarrow=False, bgcolor="#4caf50",
                     font=dict(size=12, color="#ffffff", family=FONT), width=33, height=15, borderpad=0))
# cover that cuts off the label at the pane edge
text(" ", 763, 762, 6, "#000000", xanchor="center", bgcolor="#000000", width=44, height=11)
# price labels
text('<span style="color:#000000">159.412</span><br><span style="color:#555555">03:12:26</span>', 1790, 453.2, 12.5, "#000000",
     xanchor="center", bgcolor="#ffffff", width=60, height=30.5)
text("<b>155.453</b>", 1788, 715.7, 12.5, "#ffffff", xanchor="center", bgcolor="#f23645", width=56, height=16.5)
text("<b>154.897</b>", 1788, 752.5, 12.5, "#ffffff", xanchor="center", bgcolor="#787b86", width=56, height=16.5)

fig.update_layout(
    width=W, height=H, autosize=False, margin=dict(l=0, r=0, t=0, b=0),
    paper_bgcolor=BG, plot_bgcolor="rgba(0,0,0,0)", boxgap=0.35, showlegend=False,
    font=dict(family=FONT, color=TXT),
    xaxis=dict(domain=[X(10), X(1759)], range=[-0.6076, 442.2], anchor="y2", tickmode="array",
               tickvals=x_ticks, ticktext=x_labels, tickfont=dict(size=12.5, color=TXT, family=FONT),
               showgrid=False, zeroline=False, showline=False, ticks="", ticklabelstandoff=9,
               rangeslider=dict(visible=False)),
    yaxis=dict(domain=[Y(767), Y(28)], range=[154.70, 165.55], side="right", tickmode="array",
               tickvals=price_ticks, ticktext=[f"{v:.3f}" for v in price_ticks],
               tickfont=dict(size=12.5, color=TXT, family=FONT), showgrid=False, zeroline=False,
               showline=False, ticks="", ticklabelstandoff=9, anchor="x"),
    yaxis2=dict(domain=[Y(826), Y(767)], range=[10.4, 94.7], side="right", tickmode="array",
                tickvals=[50], ticktext=["50.00"], tickfont=dict(size=12.5, color=TXT, family=FONT),
                showgrid=False, zeroline=False, showline=False, ticks="", ticklabelstandoff=9, anchor="x"),
    shapes=shapes, annotations=anns,
)

fig.write_html("out.html", config=dict(displayModeBar=False),
               post_script="document.body.style.margin='0';document.body.style.background='#1f1f1f';document.body.style.overflow='hidden';")
